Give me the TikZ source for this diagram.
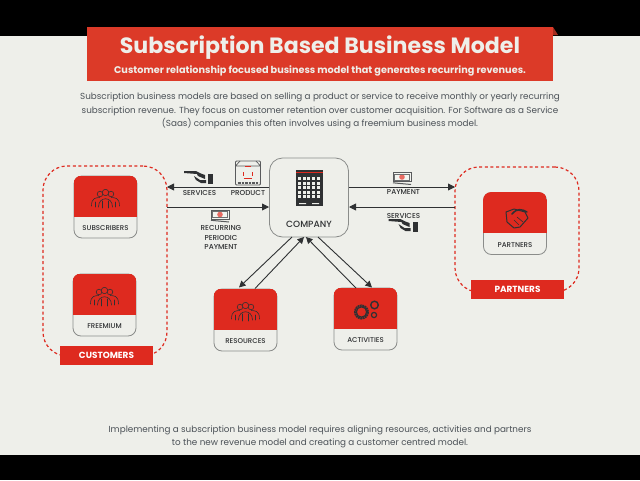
\documentclass[tikz,border=0pt]{standalone}
\usepackage{fontspec}
\setmainfont{Poppins}
\newfontfamily\medfont{Poppins Medium}
\usetikzlibrary{arrows.meta,calc}
\definecolor{paper}{HTML}{EEEFEA}
\definecolor{ribbon}{HTML}{DC3A28}
\definecolor{cardred}{HTML}{DE2A1F}
\definecolor{ink}{HTML}{2F3133}
\definecolor{bodytext}{HTML}{4B5157}
\definecolor{edge}{HTML}{8A8C8A}
\tikzset{
  x=1pt,y=-1pt,
  cardbox/.style={draw=edge,line width=.8pt,fill=paper,rounded corners=8pt,minimum width=63pt,minimum height=62pt,inner sep=0pt},
  cardlabel/.style={font=\fontsize{7}{8}\selectfont\medfont,text=ink,inner sep=0pt},
  smalllabel/.style={font=\fontsize{7.2}{9.2}\selectfont\medfont,text=ink,inner sep=0pt,align=center},
  tag/.style={fill=cardred,text=white,font=\fontsize{8.9}{10}\selectfont\bfseries,inner sep=0pt,minimum height=18.5pt},
  group/.style={draw=cardred,line width=1.2pt,dash pattern=on 3pt off 2.6pt,rounded corners=24pt},
  flow/.style={draw=ink,line width=.9pt,-{Triangle[length=7pt,width=7pt]}},
  diag/.style={draw=ink,line width=.9pt,-{Triangle[length=6.5pt,width=6.5pt]}},
  body/.style={font=\fontsize{8.8}{13.3}\selectfont,text=bodytext,align=center,inner sep=0pt},
  iconline/.style={draw=ink,line width=.6pt,line join=round,line cap=round},
  person/.pic={
    \draw[iconline] (-5.5,-5) circle (2.8) (5.5,-5) circle (2.8) (0,-6.5) circle (3.2);
    \draw[iconline] (-14,7) .. controls (-14,-2) and (-9,-1) .. (-6,-1.5);
    \draw[iconline] (14,7) .. controls (14,-2) and (9,-1) .. (6,-1.5);
    \draw[iconline] (-7,8) .. controls (-7,-3) and (7,-3) .. (7,8);
    \draw[iconline] (-3,2) -- (-3,9) (3,2) -- (3,9) (-10,3) -- (-10,8) (10,3) -- (10,8);
  },
  hand/.pic={
    \fill[ink] (-15,-7) -- (-3,-7) .. controls (0,-5) and (3,-4) .. (6,-3) -- (6,1) -- (-1,-2) -- (-2,-4) -- (-15,-5) -- cycle;
    \fill[ink] (-5,-2) -- (1,2) -- (7,2) -- (7,5) -- (2,5) -- (-3,2) -- cycle;
    \fill[ink] (9,-4) rectangle (14,6);
  },
  money/.pic={
    \draw[ink!80,line width=.7pt,fill=paper!70!white] (-9,-5) rectangle (9,4);
    \draw[ink!80,line width=1pt] (-9,5.3) -- (9,7);
    \fill[cardred!70] (0,-.5) circle (2.8);
    \draw[ink!70,line width=.5pt] (-7.5,-3.5) rectangle (7.5,2.5);
  },
}
\begin{document}
\begin{tikzpicture}
\useasboundingbox (0,0) rectangle (640,480);
\fill[paper] (0,0) rectangle (640,480);
\fill[black] (0,0) rectangle (640,36);
\fill[black] (0,455) rectangle (640,480);
% ribbon
\fill[ribbon!75!black] (553,27) -- (558,35) -- (553,35) -- cycle;
\fill[ribbon] (87,27) rectangle (553,81);
\node[text=paper,font=\fontsize{22.1}{24}\selectfont\bfseries,inner sep=0pt] (title) at (320,48) {Subscription Based Business Model};
\node[text=paper,font=\fontsize{9.7}{12}\selectfont\bfseries,inner sep=0pt] (subtitle) at (320,70.5) {Customer relationship focused business model that generates recurring revenues.};
\node[body] (intro) at (320,111) {Subscription business models are based on selling a product or service to receive monthly or yearly recurring\\subscription revenue. They focus on customer retention over customer acquisition. For Software as a Service\\(Saas) companies this often involves using a freemium business model.};
\node[body] (outro) at (320,437) {Implementing a subscription business model requires aligning resources, activities and partners\\to the new revenue model and creating a customer centred model.};
% groups
\node[group,minimum width=124pt,minimum height=190pt,inner sep=0pt] (custgroup) at (105,261) {};
\node[group,minimum width=124pt,minimum height=125pt,inner sep=0pt] (partgroup) at (517,229.5) {};
\node[tag,minimum width=93.5pt] (custtag) at (106.5,355.5) {\raisebox{-3.2pt}[0pt][0pt]{CUSTOMERS}};
\node[tag,minimum width=93.5pt] (parttag) at (517.5,289.5) {\raisebox{-3.2pt}[0pt][0pt]{PARTNERS}};
% company
\node[draw=edge,line width=.8pt,fill=paper,rounded corners=13pt,minimum width=79pt,minimum height=79pt,inner sep=0pt] (company) at (309,197.5) {};
\node[text=ink,font=\fontsize{9}{10}\selectfont\medfont,inner sep=0pt] (companylabel) at (309,224) {COMPANY};
\fill[ink] (295.5,170) rectangle (323,206);
\fill[cardred] (295.5,172) rectangle (323,173);
\foreach \cx in {298,302.5,307,312,316.5} \foreach \cy in {177,181.5,186,190.5,195}
  \fill[paper] (\cx,\cy) rectangle ++(3,3);
\fill[paper] (299,203) rectangle ++(7,1) (312,203) rectangle ++(7,1);
% cards
\newcommand{\card}[5]{%
  \node[cardbox] (#1) at (#2,#3) {};
  \begin{scope}
    \clip[rounded corners=8pt] ($(#1.north west)$) rectangle ($(#1.south east)$);
    \fill[cardred] ($(#1.north west)$) rectangle ($(#1.north east)+(0,41)$);
  \end{scope}
  \node[cardlabel] (#1label) at ($(#1.south)+(0,-10)$) {#4};
  #5
}
\card{subscribers}{105.5}{207}{SUBSCRIBERS}{\pic at (105.5,199) {person};}
\card{freemium}{104.5}{305}{FREEMIUM}{\pic at (104.5,297) {person};}
\card{resources}{245.5}{320}{RESOURCES}{\pic at (245.5,312) {person};}
\card{activities}{365.5}{319}{ACTIVITIES}{%
  \draw[ink,line width=2pt,dash pattern=on 1.8pt off .6pt] (361.5,312) circle (6.5);
  \draw[ink,line width=1.2pt] (361.5,312) circle (5.2);
  \draw[ink,line width=1.4pt] (374.5,305) circle (3.8);
  \draw[ink,line width=1.2pt] (374,315) circle (2.6);
}
\card{partners}{515}{223.5}{PARTNERS}{%
  \draw[iconline,line width=1pt,fill=cardred] (506,212) -- (514,209) -- (525,212) -- (528,218) -- (520,227) -- (514,228) -- (507,222) -- cycle;
  \draw[iconline,line width=1.5pt] (512,214) .. controls (517,208) and (522,209) .. (527,212);
  \draw[iconline] (514,220) -- (519,225) (517,217) -- (523,222);
}
% connector ends
\coordinate (cL1) at (269,187); \coordinate (gL1) at (167,187);
\coordinate (cL2) at (269,207); \coordinate (gL2) at (167,207);
\coordinate (cR1) at (349,187); \coordinate (gR1) at (455,187);
\coordinate (cR2) at (349,207); \coordinate (gR2) at (455,207);
\coordinate (cA) at (292,237); \coordinate (rA) at (239,287.5);
\coordinate (rB) at (255,288.5); \coordinate (cB) at (304,237);
\coordinate (cC) at (318,237); \coordinate (aC) at (372,287.5);
\coordinate (aD) at (356,288); \coordinate (cD) at (306,237);
\draw[flow] (cL1) -- (gL1);
\draw[flow] (gL2) -- (cL2);
\draw[flow] (cR1) -- (gR1);
\draw[flow] (gR2) -- (cR2);
\draw[diag] (cA) -- (rA);
\draw[diag] (rB) -- (cB);
\draw[diag] (cC) -- (aC);
\draw[diag] (aD) -- (cD);
% edge labels and icons
\pic at (199,178) {hand};
\node[smalllabel] (l1) at (199.5,193) {SERVICES};
\node[smalllabel] (l2) at (248,193) {PRODUCT};
\draw[draw=ink!80,line width=.8pt,fill=paper,rounded corners=1pt] (235.5,161) rectangle (260.5,185);
\draw[ink!80,line width=.7pt] (235.5,166) -- (240,161) (260.5,166) -- (256,161) (235.5,166) -- (260.5,166);
\draw[cardred,line width=.7pt] (245,166.5) -- (251,166.5) (243,172) -- (243,176) (252,172) -- (252,176) (243.5,178) -- (252,178);
\draw[ink!80,line width=1.5pt,dash pattern=on .8pt off .6pt] (237.5,183) -- (258.5,183);
\pic at (220,215) {money};
\node[smalllabel] (l3) at (221,237.5) {RECURRING\\PERIODIC\\PAYMENT};
\pic at (402,177.5) {money};
\node[smalllabel] (l4) at (403.5,192) {PAYMENT};
\node[smalllabel] (l5) at (403.5,215.5) {SERVICES};
\pic at (403.5,226) {hand};
\end{tikzpicture}
\end{document}
